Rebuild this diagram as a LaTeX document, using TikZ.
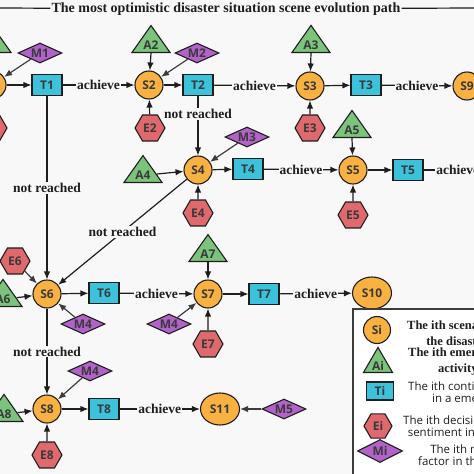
\documentclass[tikz,border=0pt]{standalone}
\usepackage{fontspec}
\setmainfont{Liberation Serif}
\setsansfont{Open Sans}
\usepackage{tikz}
\usetikzlibrary{arrows.meta,shapes}
\definecolor{bgc}{HTML}{F8F8F8}
\definecolor{linec}{HTML}{1E1E1E}
\definecolor{mlinec}{HTML}{3C3C3C}
\definecolor{textc}{HTML}{3A3A3A}
\definecolor{orangec}{HTML}{F9B242}
\definecolor{greenc}{HTML}{7CC47C}
\definecolor{cyanc}{HTML}{3CC3DB}
\definecolor{redc}{HTML}{E0696E}
\definecolor{purplec}{HTML}{B262C8}
\newcommand\tagfont{\sffamily\bfseries\fontsize{12}{12}\selectfont}
\newcommand\wordfont{\rmfamily\bfseries\fontsize{13.5}{14}\selectfont}
\newcommand\keyfont{\rmfamily\bfseries\fontsize{12.5}{16}\selectfont}
\newcommand\keysans{\sffamily\fontsize{11.5}{12}\selectfont}
\tikzstyle{symbol}=[draw=linec,line width=1.1pt,text=textc,font=\tagfont,inner sep=0pt]
\tikzstyle{scene}=[symbol,circle,fill=orangec,minimum size=28pt]
\tikzstyle{end scene}=[symbol,ellipse,fill=orangec,minimum width=39pt,minimum height=32pt]
\tikzstyle{task}=[symbol,rectangle,fill=cyanc,minimum width=30pt,minimum height=21pt]
\tikzstyle{activity}=[symbol,isosceles triangle,isosceles triangle stretches,shape border rotate=90,fill=greenc,minimum width=38pt,minimum height=25pt,anchor=south]
\tikzstyle{decision}=[symbol,regular polygon,regular polygon sides=6,fill=redc,minimum size=30pt]
\tikzstyle{media}=[symbol,diamond,aspect=2.2,fill=purplec,minimum width=44pt,minimum height=20pt]
\tikzstyle{arc}=[draw=linec,line width=1.2pt,-{Latex[length=8pt,width=6.5pt]}]
\tikzstyle{media arc}=[arc,draw=mlinec]
\tikzstyle{plain arc}=[draw=linec,line width=1.2pt]
\tikzstyle{word}=[fill=bgc,inner sep=1pt,font=\wordfont,text=linec]

\begin{document}
\begin{tikzpicture}[x=1pt,y=-1pt]
        \useasboundingbox (0,0) rectangle (474,474);
        \clip (0,0) rectangle (474,474);
        \fill[bgc] (0,0) rectangle (474,474);
        % title
        \node[font=\rmfamily\bfseries\fontsize{14}{14}\selectfont,text=linec,inner sep=1pt] (title) at (226,9) {The most optimistic disaster situation scene evolution path};
        \coordinate (tl) at (0,8);
        \coordinate (tr) at (474,8);
        \draw[plain arc] (tl) -- (title);
        \draw[plain arc] (title) -- (tr);
        % scenes
        \node[scene] (s1) at (-8,85) {S1};
        \node[scene] (s2) at (149,85) {S2};
        \node[scene] (s3) at (310,86) {S3};
        \node[scene] (s9) at (467,86) {S9};
        \node[scene] (s4) at (198,170) {S4};
        \node[scene] (s5) at (353,170) {S5};
        \node[scene] (s6) at (47,294) {S6};
        \node[scene] (s7) at (208,294) {S7};
        \node[end scene] (s10) at (372,293) {S10};
        \node[scene] (s8) at (47,409) {S8};
        \node[end scene] (s11) at (220,409) {S11};
        \coordinate (s12) at (492,170);
        % tasks
        \node[task] (t1) at (47,85) {T1};
        \node[task] (t2) at (198,85) {T2};
        \node[task] (t3) at (366,85) {T3};
        \node[task] (t4) at (248,169) {T4};
        \node[task] (t5) at (408,170) {T5};
        \node[task] (t6) at (104,293) {T6};
        \node[task] (t7) at (264,294) {T7};
        \node[task] (t8) at (104,409) {T8};
        % activities
        \node[activity] (a1) at (-8,53) {A1};
        \node[activity] (a2) at (151,53) {A2};
        \node[activity] (a3) at (311,53) {A3};
        \node[activity] (a4) at (143,183) {A4};
        \node[activity] (a5) at (352,138) {A5};
        \node[activity] (a6) at (3,307) {A6};
        \node[activity] (a7) at (208,262) {A7};
        \node[activity] (a8) at (4,422) {A8};
        % decisions
        \node[decision] (e1) at (-8,128) {E1};
        \node[decision] (e2) at (150,128) {E2};
        \node[decision] (e3) at (310,128) {E3};
        \node[decision] (e4) at (198,213) {E4};
        \node[decision] (e5) at (353,215) {E5};
        \node[decision] (e6) at (15,261) {E6};
        \node[decision] (e7) at (208,344) {E7};
        \node[decision] (e8) at (47,455) {E8};
        % media
        \node[media] (m1) at (40,53) {M1};
        \node[media] (m2) at (197,53) {M2};
        \node[media] (m3) at (247,137) {M3};
        \node[media] (m4a) at (83,324) {M4};
        \node[media] (m4b) at (169,324) {M4};
        \node[media] (m4c) at (90,371) {M4};
        \node[media] (m5) at (284,409) {M5};
        % scene to task
        \draw[arc] (s1) -- (t1);
        \draw[arc] (s2) -- (t2);
        \draw[arc] (s3) -- (t3);
        \draw[arc] (s4) -- (t4);
        \draw[arc] (s5) -- (t5);
        \draw[arc] (s6) -- (t6);
        \draw[arc] (s7) -- (t7);
        \draw[arc] (s8) -- (t8);
        % activity, decision and media into scenes
        \draw[arc] (a1) -- (s1);
        \draw[arc] (a2.south) -- (s2);
        \draw[arc] (a3.south) -- (s3);
        \draw[arc] (a4) -- (s4);
        \draw[arc] (a5.south) -- (s5);
        \draw[arc] (a6) -- (s6);
        \draw[arc] (a7.south) -- (s7);
        \draw[arc] (a8) -- (s8);
        \draw[arc] (e1) -- (s1);
        \draw[arc] (e2) -- (s2);
        \draw[arc] (e3) -- (s3);
        \draw[arc] (e4) -- (s4);
        \draw[arc] (e5) -- (s5);
        \draw[media arc] (e6) -- (s6);
        \draw[arc] (e7) -- (s7);
        \draw[arc] (e8) -- (s8);
        \draw[media arc] (m1) -- (s1);
        \draw[media arc] (m2) -- (s2);
        \draw[media arc] (m3) -- (s4);
        \draw[media arc] (m4a) -- (s6);
        \draw[media arc] (m4b) -- (s7);
        \draw[media arc] (m4c) -- (s8);
        \draw[media arc] (m5) -- (s11);
        % achieve
        \draw[arc] (t1) -- node[word] {achieve} (s2);
        \draw[arc] (t2) -- node[word] {achieve} (s3);
        \draw[arc] (t3) -- node[word] {achieve} (s9);
        \draw[arc] (t4) -- node[word] {achieve} (s5);
        \draw[arc] (t5) -- node[word] {achieve} (s12);
        \draw[arc] (t6) -- node[word] {achieve} (s7);
        \draw[arc] (t7) -- node[word] {achieve} (s10);
        \draw[arc] (t8) -- node[word] {achieve} (s11);
        % not reached
        \draw[arc] (t1) -- node[word] {not reached} (s6);
        \draw[arc] (t2) -- node[word,pos=.3] {not reached} (s4);
        \draw[arc] (s4) -- node[word] {not reached} (s6);
        \draw[arc] (s6) -- node[word] {not reached} (s8);
        % legend
        \draw[draw=mlinec,line width=1.3pt,fill=white] (353,309) rectangle (480,480);
        \node[scene,minimum size=27pt] (ks) at (377,330) {Si};
        \node[activity,minimum width=29pt,minimum height=25pt] (ka) at (378,373) {Ai};
        \node[task,minimum width=27pt,minimum height=18pt] (kt) at (380,391) {Ti};
        \node[decision,minimum size=28pt] (ke) at (378,426) {Ei};
        \node[media,minimum width=45pt,minimum height=23pt] (km) at (380,451) {Mi};
        \node[anchor=west,align=center,font=\keyfont,text=linec,inner sep=0pt] at (407,333) {The ith scenario of\\the disaster};
        \node[anchor=west,align=center,font=\keyfont,text=linec,inner sep=0pt] at (408,362) {The ith emergency\\activity};
        \node[anchor=west,align=center,font=\keysans,text=linec,inner sep=0pt] at (408,394) {The ith contingency task\\in a emergency};
        \node[anchor=west,align=center,font=\keysans,text=linec,inner sep=0pt] at (403,426) {The ith decision-maker's\\sentiment in the event};
        \node[anchor=west,align=center,font=\keysans,text=linec,inner sep=0pt] at (418,455) {The ith media\\factor in the event};
\end{tikzpicture}
\end{document}
